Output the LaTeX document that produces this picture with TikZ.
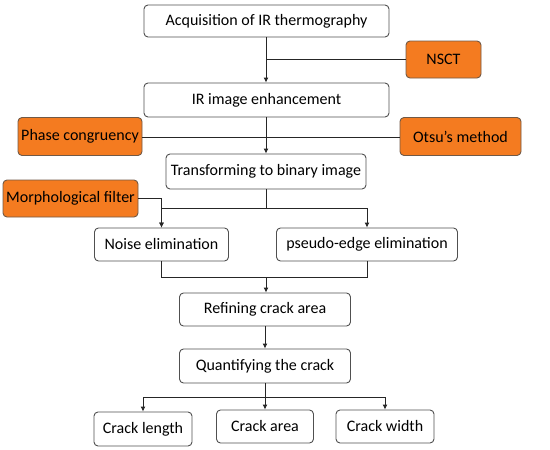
\documentclass[tikz,border=0pt]{standalone}
\usepackage{fontspec}
\setmainfont{Carlito}
\usetikzlibrary{arrows.meta}
\definecolor{boxorange}{HTML}{F47B20}
\definecolor{boxedge}{HTML}{505050}
\begin{document}
\begin{tikzpicture}[x=1pt,y=-1pt,
  every node/.style={font=\fontsize{16}{18}\selectfont, inner sep=0pt},
  wbox/.style={draw=boxedge, line width=0.9pt, rounded corners=4pt, fill=white},
  obox/.style={draw=boxedge!80!boxorange, line width=0.9pt, rounded corners=4pt, fill=boxorange},
  conn/.style={line width=0.9pt, black!85},
  arr/.style={conn, -{Latex[length=5pt,width=5pt]}}]
\useasboundingbox (0,0) rectangle (550,450);
\node[wbox, minimum width=245pt, minimum height=32pt] (acq) at (266.5,21) {Acquisition of IR thermography};
\node[obox, minimum width=75pt, minimum height=37pt] (nsct) at (443.5,59.5) {NSCT};
\node[wbox, minimum width=245pt, minimum height=34pt] (enh) at (266.5,100) {IR image enhancement};
\node[obox, minimum width=124pt, minimum height=38pt] (phase) at (80,136.5) {Phase congruency};
\node[obox, minimum width=121pt, minimum height=38pt] (otsu) at (460.5,136.5) {Otsu’s method};
\node[wbox, minimum width=200pt, minimum height=35pt] (bin) at (266,171.5) {Transforming to binary image};
\node[obox, minimum width=135pt, minimum height=37pt] (morph) at (70.5,198.5) {Morphological filter};
\node[wbox, minimum width=134pt, minimum height=33pt] (noise) at (161.5,244.5) {Noise elimination};
\node[wbox, minimum width=181pt, minimum height=33pt] (pseudo) at (367,244.5) {pseudo-edge elimination};
\node[wbox, minimum width=171pt, minimum height=33pt] (refine) at (265,309.5) {Refining crack area};
\node[wbox, minimum width=171pt, minimum height=34pt] (quant) at (265,366) {Quantifying the crack};
\node[wbox, minimum width=98pt, minimum height=34pt] (len) at (143,429) {Crack length};
\node[wbox, minimum width=97pt, minimum height=33pt] (area) at (265,426.5) {Crack area};
\node[wbox, minimum width=98pt, minimum height=33pt] (wid) at (385,426.5) {Crack width};

\coordinate (c1) at (266,37);
\coordinate (c2) at (266,117);
\coordinate (j1) at (266,208);
\coordinate (j2) at (266,277);
\coordinate (j3) at (265,397);

\draw[arr] (c1) -- (c1 |- enh.north);
\draw[conn] (nsct.west) -- (nsct.west -| c1);
\draw[arr] (c2) -- (c2 |- bin.north);
\draw[conn] (phase.east |- 0,137) -- (otsu.west |- 0,137);
\draw[conn] (c2 |- bin.south) -- (j1);
\draw[arr] (j1) -| (noise.north);
\draw[arr] (j1) -| (pseudo.north);
\draw[arr] (morph.east) -| (noise.north);
\draw[conn] (noise.south) |- (j2);
\draw[conn] (pseudo.south) |- (j2);
\draw[arr] (j2) -- (j2 |- refine.north);
\draw[arr] (refine.south) -- (quant.north);
\draw[conn] (quant.south) -- (j3);
\draw[arr] (j3) -| (len.north);
\draw[arr] (j3) -| (wid.north);
\draw[arr] (j3) -- (area.north);
\end{tikzpicture}
\end{document}
